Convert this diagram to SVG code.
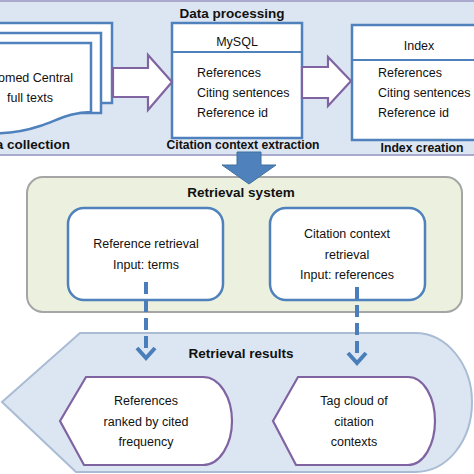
<svg xmlns="http://www.w3.org/2000/svg" width="474" height="474" viewBox="0 0 474 474">
<defs>
<style>
text{font-family:"Liberation Sans",Arial,sans-serif;fill:#111}
.t{font-size:12.5px}
.b{font-size:13.5px;font-weight:bold}
.c{text-anchor:middle}
.blue{fill:#fff;stroke:#4f81bd;stroke-width:2.5}
.pur{fill:#fff;stroke:#8064a2;stroke-width:2.2}
.dash{fill:none;stroke:#4a7ebb;stroke-width:4;stroke-dasharray:12 6}
.head{fill:none;stroke:#4a7ebb;stroke-width:4}
</style>
</defs>
<rect width="474" height="474" fill="#fff"/>
<!-- top band -->
<rect x="-5" y="1" width="484" height="154" fill="#dce6f2" stroke="#a8a9cd" stroke-width="2"/>
<text class="b c" x="232" y="18">Data processing</text>

<g id="data-collection">
<rect x="-20" y="23" width="132" height="80" class="blue"/>
<rect x="-20" y="33" width="121" height="80" class="blue"/>
<path d="M-20 43 H91 V112 C70 112 58 120 40 126 C22 132 5 135 -20 133 Z" class="blue"/>
<text class="t c" x="30" y="82">Biomed Central</text>
<text class="t c" x="30" y="102">full texts</text>
<text class="b" x="70" y="149" text-anchor="end">Data collection</text>
</g>

<g id="mysql">
<rect x="172" y="23" width="130" height="115" class="blue"/>
<line x1="172" y1="52" x2="302" y2="52" stroke="#4f81bd" stroke-width="2"/>
<text class="t c" x="237" y="46">MySQL</text>
<text class="t" x="197" y="77">References</text>
<text class="t" x="197" y="97">Citing sentences</text>
<text class="t" x="197" y="117">Reference id</text>
<text class="b c" x="243" y="149" textLength="153" lengthAdjust="spacingAndGlyphs">Citation context extraction</text>
</g>

<g id="index">
<rect x="352" y="25" width="130" height="115" class="blue"/>
<line x1="352" y1="60" x2="482" y2="60" stroke="#4f81bd" stroke-width="2"/>
<text class="t c" x="419" y="50">Index</text>
<text class="t" x="378" y="77">References</text>
<text class="t" x="378" y="97">Citing sentences</text>
<text class="t" x="378" y="117">Reference id</text>
<text class="b c" x="422" y="152" textLength="83" lengthAdjust="spacingAndGlyphs">Index creation</text>
</g>

<g id="retrieval-system">
<rect x="27" y="177" width="435" height="135" rx="16" fill="#ebf1de" stroke="#a5a5a5" stroke-width="2"/>
<text class="b c" x="241" y="197">Retrieval system</text>
</g>

<g id="reference-retrieval">
<rect x="68" y="208" width="155" height="92" rx="16" class="blue"/>
<text class="t c" x="146" y="248">Reference retrieval</text>
<text class="t c" x="146" y="269">Input: terms</text>
</g>

<g id="citation-context-retrieval">
<rect x="270" y="208" width="155" height="92" rx="16" class="blue"/>
<text class="t c" x="347" y="238">Citation context</text>
<text class="t c" x="347" y="259">retrieval</text>
<text class="t c" x="347" y="279">Input: references</text>
</g>

<g id="retrieval-results">
<path d="M80 333 H415 C448 333 472 366 472 402 C472 440 448 472 415 472 H76 L2 402 Z" fill="#dce6f2" stroke="#a9bcd4" stroke-width="2"/>
<text class="b c" x="241" y="358">Retrieval results</text>
</g>

<g id="ranked-references">
<path d="M86 377 H203 C220 377 232 398 232 421 C232 444 220 465 203 465 H84 L60 421 Z" class="pur"/>
<text class="t c" x="146" y="405">References</text>
<text class="t c" x="146" y="426">ranked by cited</text>
<text class="t c" x="146" y="446">frequency</text>
</g>

<g id="tag-cloud">
<path d="M298 377 H408 C424 377 435 398 435 421 C435 444 424 465 408 465 H296 L273 421 Z" class="pur"/>
<text class="t c" x="354" y="405">Tag cloud of</text>
<text class="t c" x="354" y="426">citation</text>
<text class="t c" x="354" y="446">contexts</text>
</g>

<g id="connectors">
<path d="M113 68 H148 V55 L172 82 L148 110 V97 H113 Z" class="pur"/>
<path d="M302 67 H328 V57 L351 81 L328 106 V98 H302 Z" class="pur"/>
<path d="M237 152 H261 V165 H276 L249 184 L222 165 H237 Z" fill="#4f81bd" stroke="#41719c" stroke-width="1"/>
<line x1="146" y1="282" x2="146" y2="354" class="dash"/>
<path d="M137 348 L146 358 L155 348" class="head"/>
<line x1="357" y1="287" x2="357" y2="359" class="dash"/>
<path d="M348 353 L357 363 L366 353" class="head"/>
</g>
</svg>
